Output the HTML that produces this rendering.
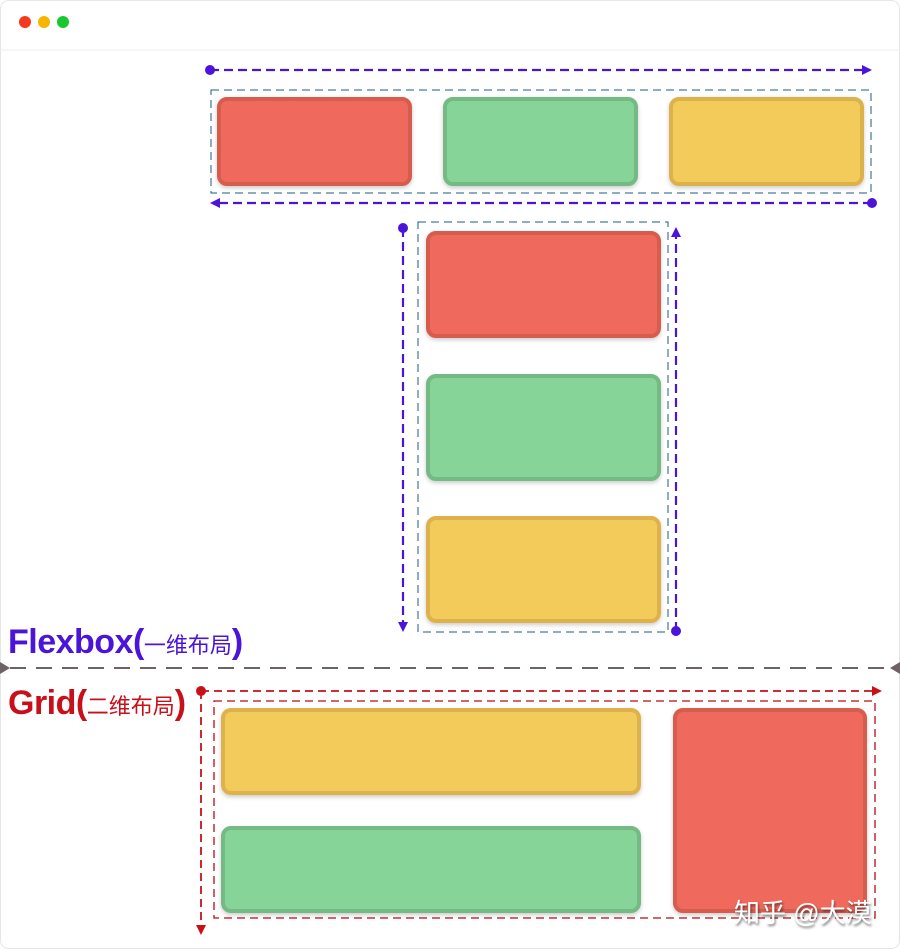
<!DOCTYPE html>
<html><head><meta charset="utf-8"><style>
html,body{margin:0;padding:0;background:#fff;width:900px;height:950px;overflow:hidden}
</style></head><body>
<svg width="900" height="950" xmlns="http://www.w3.org/2000/svg">
<defs>
<marker id="ap" markerWidth="10" markerHeight="10" refX="8" refY="5" orient="auto" markerUnits="userSpaceOnUse"><path d="M0,0 L10,5 L0,10z" fill="#4b14d8"/></marker>
<marker id="ar" markerWidth="10" markerHeight="10" refX="8" refY="5" orient="auto" markerUnits="userSpaceOnUse"><path d="M0,0 L10,5 L0,10z" fill="#c8101a"/></marker>
<filter id="sh" x="-10%" y="-10%" width="120%" height="130%"><feDropShadow dx="0" dy="2" stdDeviation="2" flood-opacity="0.2"/></filter>
<filter id="ts" x="-10%" y="-20%" width="120%" height="150%"><feDropShadow dx="1" dy="2" stdDeviation="1.2" flood-color="#000" flood-opacity="0.55"/></filter>
</defs>
<rect x="0.5" y="0.5" width="899" height="948" rx="8" fill="#fff" stroke="#e6e6e6"/>
<line x1="0" y1="50" x2="900" y2="50" stroke="#eee"/>
<circle cx="25" cy="22" r="6" fill="#f5391d"/><circle cx="44" cy="22" r="6" fill="#f7b500"/><circle cx="63" cy="22" r="6" fill="#19c72f"/>
<g fill="none" stroke-dasharray="8,5">
<rect x="211" y="90" width="660" height="103" stroke="#1d5a86" stroke-width="1"/>
<rect x="418" y="222" width="250" height="410" stroke="#1d5a86" stroke-width="1"/>
<rect x="214" y="701" width="661" height="217" stroke="#b80c16" stroke-width="1.3"/>
</g>
<g stroke-width="4" filter="url(#sh)">
<rect x="219" y="99" width="191" height="85" rx="8" fill="#ef6b5b" stroke="#d65c4e"/>
<rect x="445" y="99" width="191" height="85" rx="8" fill="#87d498" stroke="#75b985"/>
<rect x="671" y="99" width="191" height="85" rx="8" fill="#f3cb5a" stroke="#ddb24d"/>
<rect x="428" y="233" width="231" height="103" rx="8" fill="#ef6b5b" stroke="#d65c4e"/>
<rect x="428" y="376" width="231" height="103" rx="8" fill="#87d498" stroke="#75b985"/>
<rect x="428" y="518" width="231" height="103" rx="8" fill="#f3cb5a" stroke="#ddb24d"/>
<rect x="223" y="710" width="416" height="83" rx="8" fill="#f3cb5a" stroke="#ddb24d"/>
<rect x="223" y="828" width="416" height="83" rx="8" fill="#87d498" stroke="#75b985"/>
<rect x="675" y="710" width="190" height="201" rx="8" fill="#ef6b5b" stroke="#d65c4e"/>
</g>
<g stroke="#4b14d8" stroke-width="2.2" stroke-dasharray="9,5" fill="none">
<line x1="210" y1="70" x2="870" y2="70" marker-end="url(#ap)"/>
<line x1="872" y1="203" x2="212" y2="203" marker-end="url(#ap)"/>
<line x1="403" y1="228" x2="403" y2="630" marker-end="url(#ap)"/>
<line x1="676" y1="631" x2="676" y2="229" marker-end="url(#ap)"/>
</g>
<g fill="#4b14d8"><circle cx="210" cy="70" r="5"/><circle cx="872" cy="203" r="5"/><circle cx="403" cy="228" r="5"/><circle cx="676" cy="631" r="5"/></g>
<g stroke="#c8101a" stroke-width="1.8" stroke-dasharray="8,5" fill="none">
<line x1="201" y1="691" x2="880" y2="691" marker-end="url(#ar)"/>
<line x1="201" y1="691" x2="201" y2="933" marker-end="url(#ar)"/>
</g>
<circle cx="201" cy="691" r="5" fill="#c8101a"/>
<line x1="10" y1="668" x2="890" y2="668" stroke="#6e6266" stroke-width="2" stroke-dasharray="16,10"/>
<path d="M0,662 L10,668 L0,674z" fill="#6e6266"/><path d="M900,662 L890,668 L900,674z" fill="#6e6266"/>
<text x="8" y="653" font-family="Liberation Sans, sans-serif" font-weight="bold" font-size="34" fill="#4b14d8" letter-spacing="-0.5">Flexbox(<tspan font-family="Noto Sans CJK SC, sans-serif" font-weight="normal" font-size="22" letter-spacing="0">一维布局</tspan>)</text>
<text x="8" y="714" font-family="Liberation Sans, sans-serif" font-weight="bold" font-size="34" fill="#c8101a" letter-spacing="-0.5">Grid(<tspan font-family="Noto Sans CJK SC, sans-serif" font-weight="normal" font-size="22" letter-spacing="0">二维布局</tspan>)</text>
<text x="734" y="922" font-family="Liberation Sans, Noto Sans CJK SC, sans-serif" font-size="26" fill="#fff" filter="url(#ts)">知乎 @大漠</text>
</svg>
</body></html>
